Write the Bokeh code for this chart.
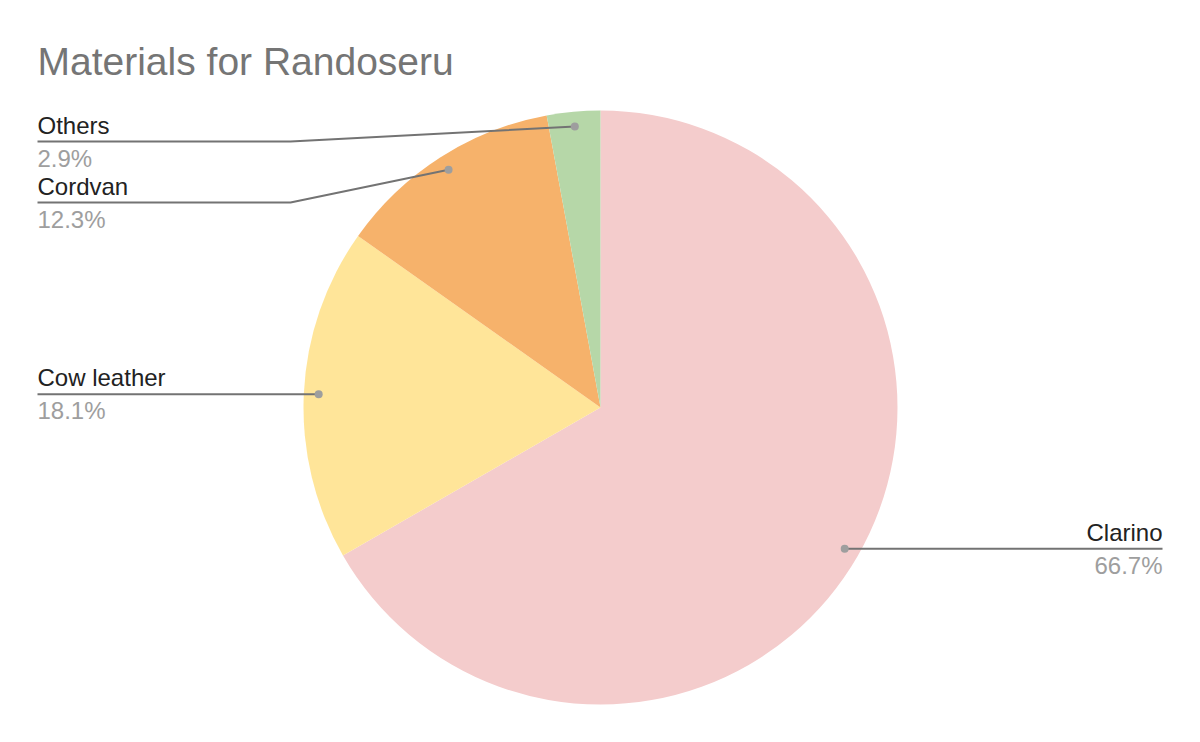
import numpy as np
from bokeh.plotting import figure
from bokeh.models import Range1d, ColumnDataSource
from bokeh.core.properties import value
from bokeh.embed import file_html
from bokeh.resources import INLINE

# ---- data ----
title = "Materials for Randoseru"
labels = ["Clarino", "Cow leather", "Cordvan", "Others"]
shares = [66.7, 18.1, 12.3, 2.9]
colors = ["#f4cccc", "#ffe599", "#f6b26b", "#b6d7a8"]

# ---- layout (page pixels, y measured from top of window) ----
W, H = 1184, 726
PAGE_H = 742
CX, CY_IMG, R = 600, 407, 297
DOT_R = 0.95 * R
LEFT_X, RIGHT_X = 37, 1162
ELBOW_L, ELBOW_R = 290, 910
TOP_LIMIT_IMG = 141
MIN_GAP = 61
FONT = "Liberation Sans"


def yd(y_img):
    return PAGE_H - y_img


CY = yd(CY_IMG)

p = figure(width=W, height=H, x_range=Range1d(0, W), y_range=Range1d(PAGE_H - H, PAGE_H),
           output_backend="svg", toolbar_location=None, min_border=0,
           x_axis_location=None, y_axis_location=None, title=None)
p.grid.visible = False
p.outline_line_color = None
p.background_fill_color = "white"
p.border_fill_color = "white"

frac = np.array(shares) / sum(shares)
cum = np.concatenate([[0.0], np.cumsum(frac)])
start = np.pi / 2 - cum[:-1] * 2 * np.pi
end = np.pi / 2 - cum[1:] * 2 * np.pi
mid = np.pi / 2 - (cum[:-1] + frac / 2) * 2 * np.pi

src = ColumnDataSource(dict(start=start, end=end, color=colors, label=labels))
p.wedge(x=CX, y=CY, radius=R, start_angle="start", end_angle="end", direction="clock",
        fill_color="color", line_color=None, source=src)

dot_x = CX + DOT_R * np.cos(mid)
dot_y = CY + DOT_R * np.sin(mid)

# label line positions, pushed apart vertically
line_y = np.zeros(len(labels))
for side in (-1, 1):
    idx = [i for i in range(len(labels)) if np.sign(np.cos(mid[i])) == side]
    idx.sort(key=lambda i: -dot_y[i])
    prev = None
    for i in idx:
        y = min(dot_y[i], yd(TOP_LIMIT_IMG))
        if prev is not None:
            y = min(y, prev - MIN_GAP)
        line_y[i] = y
        prev = y

xs, ys = [], []
tx, talign = [], []
for i in range(len(labels)):
    left = np.cos(mid[i]) < 0
    edge = LEFT_X if left else RIGHT_X
    elbow = ELBOW_L if left else ELBOW_R
    if abs(line_y[i] - dot_y[i]) < 0.5:
        xs.append([edge, dot_x[i]])
        ys.append([line_y[i], line_y[i]])
    else:
        xs.append([edge, elbow, dot_x[i]])
        ys.append([line_y[i], line_y[i], dot_y[i]])
    tx.append(edge)
    talign.append("left" if left else "right")

p.multi_line(xs=xs, ys=ys, line_color="#737373", line_width=2)
p.scatter(x=dot_x, y=dot_y, size=8, marker="circle", fill_color="#9e9e9e", line_color=None)

pct = [f"{s:.1f}%" for s in shares]
tsrc = ColumnDataSource(dict(x=tx, y_name=line_y + 16.5, y_pct=line_y - 16.5, name=labels, pct=pct, align=talign))
p.text(x="x", y="y_name", text="name", text_align="align", text_baseline="middle",
       text_font=value(FONT), text_font_size="24px", text_color="#222222", source=tsrc)
p.text(x="x", y="y_pct", text="pct", text_align="align", text_baseline="middle",
       text_font=value(FONT), text_font_size="24px", text_color="#9e9e9e", source=tsrc)

p.text(x=[37], y=[yd(61)], text=[title], text_align="left", text_baseline="middle",
       text_font=value(FONT), text_font_size="39px", text_color="#757575")

open("out.html", "w").write(file_html(p, INLINE))
